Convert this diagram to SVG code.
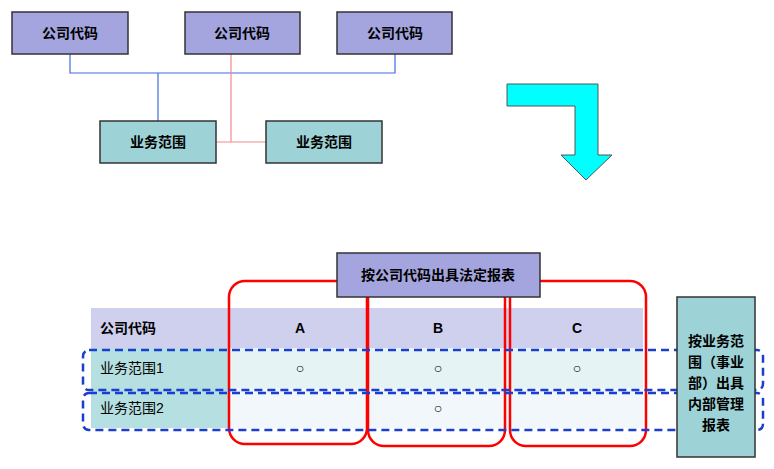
<svg xmlns="http://www.w3.org/2000/svg" width="774" height="469" viewBox="0 0 774 469">
<style>
text{font-family:"Liberation Sans","Noto Sans CJK SC",sans-serif;font-size:14px;fill:#000;text-anchor:middle;dominant-baseline:central}
.b{font-weight:bold}
.co{fill:#a4a4de;stroke:#333;stroke-width:1.5}
.bu{fill:#9dd3d6;stroke:#333;stroke-width:1.5}
.red{fill:none;stroke:#f00;stroke-width:2.5}
.dash{fill:none;stroke:#1a3fd0;stroke-width:2.5;stroke-dasharray:8 5}
</style>
<g id="connectors" fill="none">
<path d="M70 54V73H395V54M158 73V121" stroke="#4169e1" stroke-width="1.2"/>
<path d="M231 54V142M216 142H266" stroke="#f58a8a" stroke-width="1.2"/>
</g>
<g id="n1"><rect class="co" x="12" y="12" width="116" height="42"/><text class="b" x="70" y="33">公司代码</text></g>
<g id="n2"><rect class="co" x="185" y="12" width="115" height="42"/><text class="b" x="242" y="33">公司代码</text></g>
<g id="n3"><rect class="co" x="337" y="12" width="115" height="42"/><text class="b" x="395" y="33">公司代码</text></g>
<g id="n4"><rect class="bu" x="100" y="121" width="116" height="42"/><text class="b" x="158" y="142">业务范围</text></g>
<g id="n5"><rect class="bu" x="266" y="121" width="116" height="42"/><text class="b" x="324" y="142">业务范围</text></g>
<g id="arrow"><polygon points="507,84 598,84 598,155 612,155 586,180 561,155 575,155 575,106 507,106" fill="#00ffff" stroke="#555" stroke-width="1"/></g>
<g id="table">
<rect x="91" y="308" width="552" height="40" fill="#cfcfee"/>
<rect x="91" y="348" width="139" height="80" fill="#b5dfe0"/>
<rect x="230" y="348" width="413" height="40" fill="#e6f3f4"/>
<rect x="230" y="388" width="413" height="40" fill="#f1f7fa"/>
<text class="b" x="128" y="328">公司代码</text>
<text class="b" x="300" y="328">A</text>
<text class="b" x="438" y="328">B</text>
<text class="b" x="577" y="328">C</text>
<text x="132" y="368">业务范围1</text>
<text x="132" y="408">业务范围2</text>
<text x="300" y="368">○</text>
<text x="438" y="368">○</text>
<text x="577" y="368">○</text>
<text x="438" y="408">○</text>
</g>
<g id="groups">
<rect class="red" x="229" y="281" width="138" height="163" rx="16"/>
<rect class="red" x="368" y="283" width="137" height="163" rx="16"/>
<rect class="red" x="510" y="281" width="136" height="165" rx="16"/>
<rect class="dash" x="83" y="350" width="680" height="40" rx="6"/>
<rect class="dash" x="83" y="393" width="680" height="37" rx="6"/>
</g>
<g id="legal"><rect class="co" x="337" y="253" width="203" height="44"/><text class="b" x="438" y="275">按公司代码出具法定报表</text></g>
<g id="mgmt"><rect class="bu" x="677" y="297" width="78" height="160"/>
<text class="b" x="716" y="341">按业务范</text><text class="b" x="716" y="362">围（事业</text><text class="b" x="716" y="383">部）出具</text><text class="b" x="716" y="404">内部管理</text><text class="b" x="716" y="425">报表</text></g>
</svg>
